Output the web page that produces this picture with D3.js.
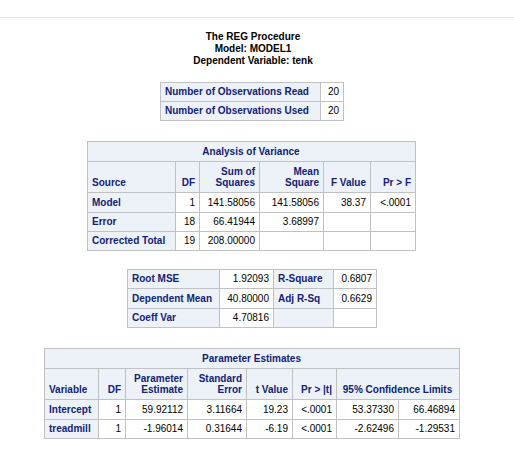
<!DOCTYPE html>
<html><head><meta charset="utf-8">
<script src="https://cdn.jsdelivr.net/npm/d3@7"></script>
<style>body{margin:0;background:#fff}text{font-family:"Liberation Sans",Arial,sans-serif;font-size:10px}</style>
</head><body><div id="chart"></div>
<script>
const titles = ["The REG Procedure", "Model: MODEL1", "Dependent Variable: tenk"];
const obsLabels = ["Number of Observations Read", "Number of Observations Used"];
const obsValues = ["20", "20"];
const anovaHeads = [["Source"], ["DF"], ["Sum of", "Squares"], ["Mean", "Square"], ["F Value"], ["Pr > F"]];
const anovaSources = ["Model", "Error", "Corrected Total"];
const anovaDF = ["1", "18", "19"];
const anovaSS = ["141.58056", "66.41944", "208.00000"];
const anovaMS = ["141.58056", "3.68997", ""];
const anovaF = ["38.37", "", ""];
const anovaP = ["<.0001", "", ""];
const fitLabels1 = ["Root MSE", "Dependent Mean", "Coeff Var"];
const fitValues1 = ["1.92093", "40.80000", "4.70816"];
const fitLabels2 = ["R-Square", "Adj R-Sq", ""];
const fitValues2 = ["0.6807", "0.6629", ""];
const peHeads = [["Variable"], ["DF"], ["Parameter", "Estimate"], ["Standard", "Error"], ["t Value"], ["Pr > |t|"]];
const peVars = ["Intercept", "treadmill"];
const peDF = ["1", "1"];
const peEst = ["59.92112", "-1.96014"];
const peSE = ["3.11664", "0.31644"];
const peT = ["19.23", "-6.19"];
const peP = ["<.0001", "<.0001"];
const peLo = ["53.37330", "-2.62496"];
const peHi = ["66.46894", "-1.29531"];

const W = 514, H = 472;
const svg = d3.select("#chart").append("svg").attr("width", W).attr("height", H);
const HEAD_BG = "#edf2f9", HEAD_FG = "#112277", BORDER = "#c1c1c1";

svg.append("line").attr("x1", 0).attr("x2", W).attr("y1", 17.5).attr("y2", 17.5).attr("stroke", "#e4e4e4");

svg.selectAll("text.title").data(titles).enter().append("text")
  .attr("x", 253).attr("y", (d, i) => 40 + i * 12)
  .attr("text-anchor", "middle").attr("font-weight", "bold").attr("fill", "#000").text(d => d);

function drawTable(cols, rows, cells) {
  const g = svg.append("g");
  cells.forEach(c => {
    const x0 = cols[c.c0], x1 = cols[c.c1], y0 = rows[c.r], y1 = rows[c.r + 1];
    g.append("rect").attr("x", x0 + 0.5).attr("y", y0 + 0.5).attr("width", x1 - x0).attr("height", y1 - y0)
      .attr("fill", c.head ? HEAD_BG : "#fff").attr("stroke", BORDER);
  });
  cells.forEach(c => {
    const x0 = cols[c.c0], x1 = cols[c.c1], y1 = rows[c.r + 1];
    const lines = Array.isArray(c.t) ? c.t : [c.t];
    const tx = c.align === "start" ? x0 + 5 : c.align === "middle" ? (x0 + x1) / 2 : x1 - 4;
    lines.forEach((t, i) => {
      g.append("text").attr("x", tx).attr("y", y1 - 6 - (lines.length - 1 - i) * 11)
        .attr("text-anchor", c.align).attr("font-weight", c.head ? "bold" : "normal")
        .attr("fill", c.head ? HEAD_FG : "#000").text(t);
    });
  });
}

drawTable([160, 320, 343], [82, 101, 120],
  obsLabels.flatMap((l, i) => [
    { c0: 0, c1: 1, r: i, t: l, head: true, align: "start" },
    { c0: 1, c1: 2, r: i, t: obsValues[i], align: "end" }]));

{
  const cols = [87, 175, 199, 259, 323, 370, 415];
  const cells = [{ c0: 0, c1: 6, r: 0, t: "Analysis of Variance", head: true, align: "middle" }];
  anovaHeads.forEach((h, j) => cells.push({ c0: j, c1: j + 1, r: 1, t: h, head: true, align: j === 0 ? "start" : "end" }));
  anovaSources.forEach((s, i) => {
    const vals = [anovaDF[i], anovaSS[i], anovaMS[i], anovaF[i], anovaP[i]];
    cells.push({ c0: 0, c1: 1, r: i + 2, t: s, head: true, align: "start" });
    vals.forEach((v, j) => cells.push({ c0: j + 1, c1: j + 2, r: i + 2, t: v, align: "end" }));
  });
  drawTable(cols, [141, 161, 192, 212, 231, 250], cells);
}

{
  const cells = [];
  fitLabels1.forEach((l, i) => {
    cells.push({ c0: 0, c1: 1, r: i, t: l, head: true, align: "start" });
    cells.push({ c0: 1, c1: 2, r: i, t: fitValues1[i], align: "end" });
    cells.push({ c0: 2, c1: 3, r: i, t: fitLabels2[i], head: true, align: "start" });
    cells.push({ c0: 3, c1: 4, r: i, t: fitValues2[i], align: "end" });
  });
  drawTable([127, 219, 273, 333, 376], [269, 288, 308, 327], cells);
}

{
  const cols = [44, 98, 125, 187, 246, 292, 336, 398, 459];
  const cells = [{ c0: 0, c1: 8, r: 0, t: "Parameter Estimates", head: true, align: "middle" }];
  peHeads.forEach((h, j) => cells.push({ c0: j, c1: j + 1, r: 1, t: h, head: true, align: j === 0 ? "start" : "end" }));
  cells.push({ c0: 6, c1: 8, r: 1, t: "95% Confidence Limits", head: true, align: "middle" });
  peVars.forEach((v, i) => {
    const vals = [peDF[i], peEst[i], peSE[i], peT[i], peP[i], peLo[i], peHi[i]];
    cells.push({ c0: 0, c1: 1, r: i + 2, t: v, head: true, align: "start" });
    vals.forEach((x, j) => cells.push({ c0: j + 1, c1: j + 2, r: i + 2, t: x, align: "end" }));
  });
  drawTable(cols, [348, 368, 399, 419, 438], cells);
}
</script></body></html>
